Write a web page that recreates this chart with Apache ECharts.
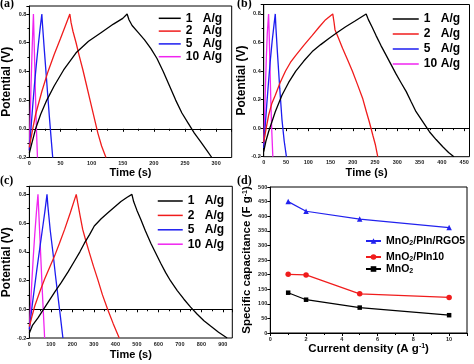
<!DOCTYPE html>
<html>
<head>
<meta charset="utf-8">
<script src="https://cdn.jsdelivr.net/npm/echarts@6/dist/echarts.min.js"></script>
<style>
  html, body { margin: 0; padding: 0; background: #fff; }
  #chart { width: 474px; height: 364px; }
</style>
</head>
<body>
<div id="chart"></div>
<script>
// galvanostatic charge/discharge curves, [time (s), potential (V)]
const a1 = [[0,-0.17],[4,-0.1],[10,0.0],[18,0.1],[28,0.2],[40,0.3],[55,0.41],[75,0.53],[95,0.61],[115,0.67],[135,0.73],[150,0.77],[157,0.8],[160,0.76],[165,0.72],[175,0.67],[185,0.62],[195,0.56],[205,0.49],[215,0.4],[225,0.3],[235,0.2],[245,0.11],[255,0.04],[265,-0.03],[275,-0.09],[285,-0.15],[293,-0.2]]
const a2 = [[0,-0.13],[5,-0.01],[10,0.1],[20,0.26],[30,0.4],[40,0.52],[50,0.63],[58,0.72],[65,0.8],[67,0.74],[70,0.68],[75,0.6],[80,0.51],[86,0.41],[92,0.3],[98,0.19],[104,0.08],[110,-0.03],[116,-0.12],[123,-0.2]]
const a5 = [[0,-0.15],[2,-0.03],[5,0.14],[8,0.3],[11,0.44],[14,0.57],[17,0.69],[20,0.8],[21,0.73],[24,0.55],[28,0.32],[32,0.09],[35,-0.07],[37.5,-0.2]]
const a10 = [[0,-0.15],[1,0.03],[2.5,0.28],[4,0.5],[5.5,0.69],[6.5,0.8],[7,0.72],[8.5,0.46],[10,0.2],[11.5,-0.02],[13,-0.2]]

const b1 = [[0,-0.165],[5,-0.09],[11,-0.025],[26,0.115],[41,0.23],[56,0.32],[72,0.4],[90,0.47],[109,0.536],[128,0.585],[147,0.63],[165,0.67],[184,0.71],[205,0.75],[230,0.8],[235,0.76],[243,0.71],[252,0.65],[263,0.58],[275,0.51],[286,0.445],[297,0.38],[308,0.32],[320,0.256],[331,0.185],[342,0.115],[357,0.045],[372,-0.025],[387,-0.08],[402,-0.13],[415,-0.17],[427,-0.2]]
const b2 = [[0,-0.1],[5,-0.01],[11,0.09],[18,0.17],[26,0.23],[37,0.32],[49,0.4],[60,0.46],[72,0.51],[90,0.58],[109,0.65],[125,0.71],[139,0.76],[155,0.8],[158,0.74],[160,0.69],[168,0.63],[177,0.56],[188,0.48],[199,0.4],[210,0.31],[222,0.21],[230,0.12],[237,0.045],[245,-0.05],[251,-0.12],[256,-0.2]]
const b5 = [[0,-0.14],[3,0.0],[7,0.17],[11,0.33],[15,0.48],[19,0.61],[23,0.72],[26,0.8],[27.5,0.7],[31,0.52],[36,0.28],[41,0.06],[46,-0.09],[51,-0.2]]
const b10 = [[0,-0.12],[2,0.08],[4,0.3],[6,0.5],[8,0.66],[11,0.8],[12,0.7],[14,0.44],[16,0.19],[18,-0.01],[20.5,-0.2]]

const c1 = [[0,-0.165],[15,-0.11],[40,-0.06],[86,0.046],[120,0.125],[148,0.185],[180,0.26],[210,0.336],[235,0.4],[256,0.46],[280,0.52],[302,0.58],[334,0.63],[364,0.67],[395,0.71],[426,0.75],[455,0.78],[477,0.8],[485,0.75],[500,0.69],[518,0.626],[540,0.545],[565,0.46],[588,0.39],[611,0.32],[634,0.255],[657,0.197],[688,0.13],[719,0.07],[750,0.015],[781,-0.035],[812,-0.08],[843,-0.117],[880,-0.16],[920,-0.2]]
const c2 = [[0,-0.12],[12,-0.05],[25,0.023],[48,0.12],[71,0.21],[94,0.29],[117,0.37],[140,0.46],[164,0.556],[190,0.67],[218,0.8],[225,0.74],[236,0.65],[248,0.556],[263,0.475],[279,0.394],[298,0.3],[318,0.208],[340,0.1],[364,0.0],[390,-0.1],[418,-0.2]]
const c5 = [[0,-0.14],[10,-0.01],[22,0.13],[35,0.28],[48,0.42],[60,0.55],[72,0.68],[82,0.8],[86,0.72],[97,0.55],[110,0.39],[121,0.24],[133,0.09],[145,-0.06],[156,-0.2]]
const c10 = [[0,-0.14],[5,0.01],[11,0.18],[18,0.36],[25,0.52],[33,0.68],[40,0.8],[43,0.7],[49,0.5],[55,0.3],[61,0.1],[66,-0.05],[71,-0.2]]

const densityNames = ['1 A/g', '2 A/g', '5 A/g', '10 A/g']
const densityColors = ['#000000', '#f01c1c', '#1c1cf0', '#f024f0']

// specific capacitance vs current density
const currentDensity = [1, 2, 5, 10]
const capRgo = [450, 417, 390, 361]
const capPin = [201, 199, 134, 122]
const capMno2 = [138, 114, 87, 61]
const capNames = ['MnO2/PIn/RGO5', 'MnO2/PIn10', 'MnO2']
const capColors = ['#2222ee', '#f01c1c', '#000000']
const capSymbols = ['triangle', 'circle', 'rect']

const FONT = 'Arial, "Liberation Sans", sans-serif'
const chart = echarts.init(document.getElementById('chart'))

const gridBox = [
  { left: 29.3, top: 6, width: 202.4, height: 151.5 },
  { left: 263.7, top: 4.5, width: 205.8, height: 152.2 },
  { left: 28.3, top: 186.3, width: 204, height: 151.7 },
  { left: 270.3, top: 187, width: 196.7, height: 146 }
].map(g => Object.assign({ show: true, borderColor: '#000', borderWidth: 1 }, g))

const labelStyle = { fontSize: 5.5, fontWeight: 'bold', color: '#222', fontFamily: FONT, margin: 3 }

const makeAxis = (gridIndex, min, max, interval, name, nameGap, nameSize, opts = {}) => ({
  type: 'value',
  gridIndex,
  min,
  max,
  interval,
  name,
  nameLocation: 'middle',
  nameGap,
  nameTextStyle: {
    fontSize: nameSize, fontWeight: 'bold', color: '#000', fontFamily: FONT,
    rich: { sup: { fontSize: 7, fontWeight: 'bold', color: '#000', fontFamily: FONT, verticalAlign: 'top' } }
  },
  axisLine: { show: true, lineStyle: { color: '#000', width: 1 } },
  axisTick: { show: true, length: 3, lineStyle: { color: '#000' } },
  minorTick: { show: opts.minor !== false, splitNumber: 2, length: 2, lineStyle: { color: '#000' } },
  splitLine: { show: false },
  axisLabel: Object.assign({ showMaxLabel: opts.showMax || false, formatter: opts.fmt }, labelStyle)
})

const vFmt = v => v.toFixed(1)

const xAxes = [
  makeAxis(0, 0, 325, 50, 'Time (s)', 9.5, 11),
  makeAxis(1, 0, 462, 50, 'Time (s)', 10.3, 11),
  makeAxis(2, 0, 944, 100, 'Time (s)', 11.3, 11),
  makeAxis(3, 0, 11, 2, 'Current density (A g{sup|-1})', 9, 11.5)
]
const yAxes = [
  makeAxis(0, -0.2, 0.856, 0.2, 'Potential (V)', 13.3, 12, { fmt: vFmt }),
  makeAxis(1, -0.2, 0.866, 0.2, 'Potential (V)', 10.7, 12, { fmt: vFmt }),
  makeAxis(2, -0.2, 0.856, 0.2, 'Potential (V)', 12.3, 12, { fmt: vFmt }),
  makeAxis(3, 0, 500, 50, 'Specific capacitance (F g{sup|-1})', 17, 11.5, { minor: false, showMax: true })
]

const series = []
const gcd = [[a1, a2, a5, a10], [b1, b2, b5, b10], [c1, c2, c5, c10]]
gcd.forEach((curves, p) => {
  curves.forEach((d, i) => {
    series.push({
      type: 'line',
      name: densityNames[i],
      xAxisIndex: p,
      yAxisIndex: p,
      data: d,
      symbol: 'none',
      lineStyle: { width: 1.3, color: densityColors[i] },
      itemStyle: { color: densityColors[i] },
      z: 10 - i
    })
  })
})

const caps = [capRgo, capPin, capMno2]
caps.forEach((vals, i) => {
  series.push({
    type: 'line',
    name: capNames[i],
    xAxisIndex: 3,
    yAxisIndex: 3,
    data: currentDensity.map((x, k) => [x, vals[k]]),
    symbol: capSymbols[i],
    symbolSize: i === 2 ? 4.5 : 5.5,
    lineStyle: { width: 1.2, color: capColors[i] },
    itemStyle: { color: capColors[i] }
  })
})

const densityLegend = (left, top, gap, width) => ({
  left, top, orient: 'vertical', padding: 0,
  itemGap: gap, itemWidth: width, itemHeight: 12,
  itemStyle: { opacity: 0 },
  lineStyle: { width: 1.5 },
  data: densityNames,
  formatter: name => {
    const [n, u] = name.split(' ')
    return `{n|${n}}{u|${u}}`
  },
  textStyle: {
    fontSize: 12, fontWeight: 'bold', color: '#000', fontFamily: FONT, lineHeight: 12,
    rich: {
      n: { width: 17, fontSize: 12, fontWeight: 'bold', color: '#000', fontFamily: FONT },
      u: { fontSize: 12, fontWeight: 'bold', color: '#000', fontFamily: FONT }
    }
  }
})

const capLegend = (name, top) => ({
  left: 365, top, orient: 'vertical', padding: 0,
  itemWidth: 15, itemHeight: 7,
  data: [name],
  formatter: n => n.replace('MnO2', 'MnO{sub|2}'),
  textStyle: {
    fontSize: 10.5, fontWeight: 'bold', color: '#000', fontFamily: FONT, lineHeight: 12,
    rich: {
      sub: { fontSize: 7, fontWeight: 'bold', color: '#000', fontFamily: FONT, verticalAlign: 'bottom' }
    }
  }
})

const panelTitle = (text, left, top) => ({
  text, left, top, padding: 0,
  textStyle: { fontFamily: '"Liberation Serif", "Times New Roman", serif', fontWeight: 'bold', fontSize: 12, color: '#000' }
})

chart.setOption({
  animation: false,
  backgroundColor: '#fff',
  title: [
    panelTitle('(a)', 0, -2),
    panelTitle('(b)', 237, -2),
    panelTitle('(c)', 0, 174.5),
    panelTitle('(d)', 237, 174.5)
  ],
  legend: [
    densityLegend(158, 12.3, 0.8, 22),
    densityLegend(392, 13, 3, 26),
    densityLegend(157, 195, 2.4, 25),
    capLegend(capNames[0], 235),
    capLegend(capNames[1], 251),
    capLegend(capNames[2], 263)
  ],
  grid: gridBox,
  xAxis: xAxes,
  yAxis: yAxes,
  series
})
</script>
</body>
</html>
